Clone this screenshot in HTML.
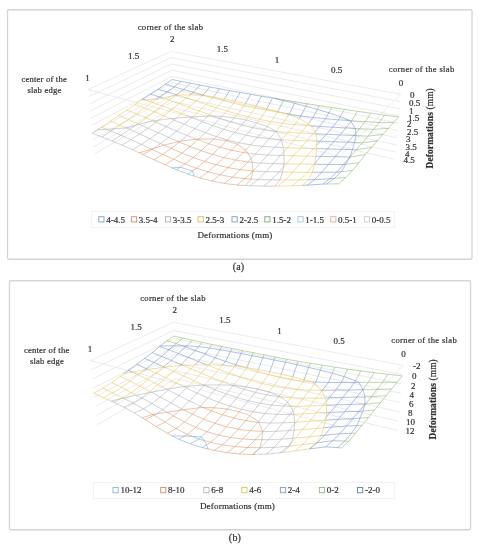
<!DOCTYPE html>
<html><head><meta charset="utf-8"><style>html,body{margin:0;padding:0;background:#fff;width:478px;height:550px;overflow:hidden}svg{display:block}</style></head>
<body>
<svg width="478" height="550" viewBox="0 0 478 550" font-family="'Liberation Serif', serif" fill="#303030">
<style>text{stroke:#303030;stroke-width:0.2px}</style>
<rect width="478" height="550" fill="#fff"/>
<rect x="7.5" y="9.75" width="464.5" height="249.5" rx="1.5" fill="none" stroke="#D4D4D4" stroke-width="1.3"/>
<rect x="9.5" y="280.75" width="461" height="249" rx="1.5" fill="none" stroke="#D4D4D4" stroke-width="1.3"/>
<polyline points="88,89.6 170.8,51.4 400.8,94.3" stroke="#E6E6E6" stroke-width="0.8" fill="none"/>
<polyline points="88.76,96.74 171.04,57.67 400.18,101.53" stroke="#E6E6E6" stroke-width="0.8" fill="none"/>
<polyline points="89.51,103.89 171.29,63.93 399.56,108.77" stroke="#E6E6E6" stroke-width="0.8" fill="none"/>
<polyline points="90.27,111.03 171.53,70.2 398.93,116" stroke="#E6E6E6" stroke-width="0.8" fill="none"/>
<polyline points="91.02,118.18 171.78,76.47 398.31,123.23" stroke="#E6E6E6" stroke-width="0.8" fill="none"/>
<polyline points="91.78,125.32 172.02,82.73 397.69,130.47" stroke="#E6E6E6" stroke-width="0.8" fill="none"/>
<polyline points="92.53,132.47 172.27,89 397.07,137.7" stroke="#E6E6E6" stroke-width="0.8" fill="none"/>
<polyline points="93.29,139.61 172.51,95.27 396.44,144.93" stroke="#E6E6E6" stroke-width="0.8" fill="none"/>
<polyline points="94.04,146.76 172.76,101.53 395.82,152.17" stroke="#E6E6E6" stroke-width="0.8" fill="none"/>
<polyline points="94.8,153.9 173,107.8 395.2,159.4" stroke="#E6E6E6" stroke-width="0.8" fill="none"/>
<polyline points="88,89.6 339.8,156.6 400.8,94.3" stroke="#E6E6E6" stroke-width="0.8" fill="none"/>
<path d="M338.84 183.79L326.26 184.03 M338.84 183.79L345.79 177.46 M345.79 177.46L334.42 178.42 M345.79 177.46L352.5 170.53 M352.5 170.53L341.07 171.71 M352.5 170.53L359.04 162.68 M359.04 162.68L345.79 164.31 M359.04 162.68L365.38 154.58 M365.38 154.58L349.99 157.01 M365.38 154.58L371.45 147.42 M371.45 147.42L356.17 149.75 M371.45 147.42L377.28 140.78 M377.28 140.78L362.2 142.82 M377.28 140.78L382.9 134.45 M382.9 134.45L368.02 136.11 M382.9 134.45L388.32 128.37 M388.32 128.37L373.67 129.39 M388.32 128.37L393.56 122.54 M393.56 122.54L379.16 122.48 M393.56 122.54L398.61 116.97 M398.61 116.97L384.54 115.08 M350.14 156.77L356.17 149.75 M356.17 149.75L352.4 149.63 M356.17 149.75L362.2 142.82 M362.2 142.82L354.53 142.52 M362.2 142.82L368.02 136.11 M368.02 136.11L355.95 135.58 M368.02 136.11L373.67 129.39 M373.67 129.39L359.56 128.7 M373.67 129.39L379.16 122.48 M379.16 122.48L365.22 121.7 M379.16 122.48L384.54 115.08 M384.54 115.08L370.83 113.2 M355.85 133.03L359.56 128.7 M359.56 128.7L355.29 128.47 M359.56 128.7L365.22 121.7 M365.22 121.7L351.66 120.83 M365.22 121.7L370.83 113.2 M370.83 113.2L357.47 111.31 M351.04 121.59L351.66 120.83 M351.66 120.83L350.3 120.73 M351.66 120.83L357.47 111.31 M357.47 111.31L344.44 109.4 M340.32 116.6L344.44 109.4 M344.44 109.4L331.73 107.5 M328.87 112.76L331.73 107.5 M331.73 107.5L319.32 105.6 M317.36 109.36L319.32 105.6 M319.32 105.6L307.21 103.71 M305.91 106.26L307.21 103.71 M307.21 103.71L295.38 101.82 M294.6 103.36L295.38 101.82 M295.38 101.82L283.83 99.93 M283.48 100.59L283.83 99.93 M283.83 99.93L274.6 98.4" stroke="#78A858" stroke-width="0.8" stroke-opacity="0.6" fill="none"/>
<path d="M326.26 184.03L322.74 184.1 M334.42 178.42L329.84 178.81 M341.07 171.71L336.74 172.16 M345.79 164.31L343.44 164.6 M349.99 157.01L349.92 157.03 M322.74 184.1L307.17 185.13 M322.74 184.1L329.84 178.81 M329.84 178.81L314.48 179.62 M329.84 178.81L336.74 172.16 M336.74 172.16L321.59 172.31 M336.74 172.16L343.44 164.6 M343.44 164.6L328.48 164.44 M343.44 164.6L349.92 157.03 M349.92 157.03L335.14 156.69 M349.92 157.03L350.14 156.77 M352.4 149.63L341.56 149.28 M354.53 142.52L347.76 142.26 M355.95 135.58L353.75 135.48 M307.17 185.13L302.19 185.38 M307.17 185.13L314.48 179.62 M314.48 179.62L308.71 179.74 M314.48 179.62L321.59 172.31 M321.59 172.31L312.34 172.32 M321.59 172.31L328.48 164.44 M328.48 164.44L314.62 164.27 M328.48 164.44L335.14 156.69 M335.14 156.69L320.81 156.39 M335.14 156.69L341.56 149.28 M341.56 149.28L327.39 148.88 M341.56 149.28L347.76 142.26 M347.76 142.26L333.74 141.73 M347.76 142.26L353.75 135.48 M353.75 135.48L339.89 134.86 M353.75 135.48L355.85 133.03 M355.29 128.47L345.86 127.96 M314.81 163.32L320.81 156.39 M320.81 156.39L315.88 156.29 M320.81 156.39L327.39 148.88 M327.39 148.88L316.61 148.59 M327.39 148.88L333.74 141.73 M333.74 141.73L320.13 141.23 M333.74 141.73L339.89 134.86 M339.89 134.86L326.42 134.26 M339.89 134.86L345.86 127.96 M345.86 127.96L332.52 127.19 M345.86 127.96L351.04 121.59 M350.3 120.73L338.47 119.82 M316.77 145L320.13 141.23 M320.13 141.23L316.74 141.13 M320.13 141.23L326.42 134.26 M326.42 134.26L316.06 133.81 M326.42 134.26L332.52 127.19 M332.52 127.19L319.55 126.38 M332.52 127.19L338.47 119.82 M338.47 119.82L325.63 118.71 M338.47 119.82L340.32 116.6 M315.04 131.66L319.55 126.38 M319.55 126.38L311.13 125.83 M319.55 126.38L325.63 118.71 M325.63 118.71L313.12 117.47 M325.63 118.71L328.87 112.76 M308.37 123.67L313.12 117.47 M313.12 117.47L300.93 116.01 M313.12 117.47L317.36 109.36 M299.14 118.45L300.93 116.01 M300.93 116.01L289.05 114.24 M300.93 116.01L305.91 106.26 M288.83 114.55L289.05 114.24 M289.05 114.24L285.63 113.62 M289.05 114.24L294.6 103.36 M277.74 111.57L283.48 100.59 M274.6 98.4L272.54 98.05 M266.82 108.74L272.54 98.05 M272.54 98.05L261.5 96.2 M256.17 105.97L261.5 96.2 M261.5 96.2L250.7 94.35 M245.56 103.41L250.7 94.35 M250.7 94.35L240.14 92.49 M234.91 101.09L240.14 92.49 M240.14 92.49L229.8 90.61 M224.23 98.98L229.8 90.61 M229.8 90.61L219.69 88.74 M204.6 95.49L203.06 95.07 M213.61 97.01L219.69 88.74 M219.69 88.74L209.78 86.88 M202.77 95.32L203.06 95.07 M203.06 95.07L193.29 92.29 M203.06 95.07L209.78 86.88 M209.78 86.88L200.08 85.04 M177.67 95.15L176.6 94.81 M190 94.9L193.29 92.29 M193.29 92.29L183.7 89.53 M193.29 92.29L200.08 85.04 M200.08 85.04L190.58 83.21 M162.95 98.03L159.77 96.99 M175.97 95.26L176.6 94.81 M176.6 94.81L167.14 91.96 M176.6 94.81L183.7 89.53 M183.7 89.53L174.31 86.88 M183.7 89.53L190.58 83.21 M190.58 83.21L181.26 81.38 M145.65 100.04L142.82 99.08 M156.46 99.3L159.77 96.99 M159.77 96.99L150.45 94.14 M159.77 96.99L167.14 91.96 M167.14 91.96L157.88 89.29 M167.14 91.96L174.31 86.88 M174.31 86.88L165.1 84.34 M174.31 86.88L181.26 81.38 M181.26 81.38L172.13 79.55 M141.48 100.01L142.82 99.08 M142.82 99.08L150.45 94.14 M150.45 94.14L157.88 89.29 M157.88 89.29L165.1 84.34 M165.1 84.34L172.13 79.55 M326.26 184.03L334.42 178.42 M334.42 178.42L341.07 171.71 M341.07 171.71L345.79 164.31 M345.79 164.31L349.99 157.01 M349.99 157.01L350.14 156.77 M352.4 149.63L350.14 156.77 M352.4 149.63L354.53 142.52 M354.53 142.52L355.95 135.58 M355.95 135.58L355.85 133.03 M355.29 128.47L355.85 133.03 M355.29 128.47L351.04 121.59 M350.3 120.73L351.04 121.59 M350.3 120.73L340.32 116.6 M328.87 112.76L340.32 116.6 M317.36 109.36L328.87 112.76 M305.91 106.26L317.36 109.36 M294.6 103.36L305.91 106.26 M283.48 100.59L294.6 103.36 M274.6 98.4L283.48 100.59" stroke="#5A7EC0" stroke-width="0.8" stroke-opacity="0.6" fill="none"/>
<path d="M302.19 185.38L292.16 185.89 M308.71 179.74L299.67 179.94 M312.34 172.32L306.95 172.32 M314.62 164.27L314 164.26 M292.16 185.89L277.68 186.18 M292.16 185.89L299.67 179.94 M299.67 179.94L285.35 179.91 M299.67 179.94L306.95 172.32 M306.95 172.32L292.77 172.15 M306.95 172.32L314 164.26 M314 164.26L299.96 164.05 M314 164.26L314.81 163.32 M315.88 156.29L306.91 156.11 M316.61 148.59L313.63 148.52 M277.68 186.18L274.86 186.18 M277.68 186.18L285.35 179.91 M285.35 179.91L279.99 179.86 M285.35 179.91L292.77 172.15 M292.77 172.15L282.51 171.98 M292.77 172.15L299.96 164.05 M299.96 164.05L286.35 163.84 M299.96 164.05L306.91 156.11 M306.91 156.11L293.42 155.84 M306.91 156.11L313.63 148.52 M313.63 148.52L300.26 148.19 M313.63 148.52L316.77 145 M316.74 141.13L306.89 140.82 M316.06 133.81L313.31 133.69 M283.52 166.97L286.35 163.84 M286.35 163.84L284.06 163.8 M286.35 163.84L293.42 155.84 M293.42 155.84L284.12 155.61 M293.42 155.84L300.26 148.19 M300.26 148.19L287.29 147.81 M300.26 148.19L306.89 140.82 M306.89 140.82L294.03 140.39 M306.89 140.82L313.31 133.69 M313.31 133.69L300.56 133.14 M313.31 133.69L315.04 131.66 M311.13 125.83L306.92 125.56 M283.95 151.51L287.29 147.81 M287.29 147.81L283.32 147.63 M287.29 147.81L294.03 140.39 M294.03 140.39L281.52 139.76 M294.03 140.39L300.56 133.14 M300.56 133.14L288.16 132.47 M300.56 133.14L306.92 125.56 M306.92 125.56L294.62 124.62 M306.92 125.56L308.37 123.67 M281.44 139.85L281.52 139.76 M281.52 139.76L281.39 139.75 M281.52 139.76L288.16 132.47 M288.16 132.47L276.39 131.49 M288.16 132.47L294.62 124.62 M294.62 124.62L282.64 123.4 M294.62 124.62L299.14 118.45 M276.2 131.32L282.64 123.4 M282.64 123.4L270.96 121.63 M282.64 123.4L288.83 114.55 M285.63 113.62L277.45 112.14 M267.13 126.41L270.96 121.63 M270.96 121.63L259.56 119.36 M270.96 121.63L277.45 112.14 M277.45 112.14L266.11 110.07 M277.45 112.14L277.74 111.57 M256.75 122.87L259.56 119.36 M259.56 119.36L248.42 116.91 M259.56 119.36L266.11 110.07 M266.11 110.07L255.03 108.07 M266.11 110.07L266.82 108.74 M245.86 119.99L248.42 116.91 M248.42 116.91L237.52 114.16 M248.42 116.91L255.03 108.07 M255.03 108.07L244.2 105.82 M255.03 108.07L256.17 105.97 M234.31 117.81L237.52 114.16 M237.52 114.16L226.85 111.04 M237.52 114.16L244.2 105.82 M244.2 105.82L233.59 103.26 M244.2 105.82L245.56 103.41 M213.17 116.1L209.39 114.77 M221.78 116.48L226.85 111.04 M226.85 111.04L216.39 107.76 M226.85 111.04L233.59 103.26 M233.59 103.26L223.21 100.53 M233.59 103.26L234.91 101.09 M207.97 116.12L209.39 114.77 M209.39 114.77L199.06 110.98 M209.39 114.77L216.39 107.76 M216.39 107.76L206.14 104.43 M216.39 107.76L223.21 100.53 M223.21 100.53L213.03 97.8 M223.21 100.53L224.23 98.98 M190.6 117.04L181.59 113.47 M192.46 116.9L199.06 110.98 M199.06 110.98L188.94 107.21 M199.06 110.98L206.14 104.43 M206.14 104.43L196.1 101.12 M206.14 104.43L213.03 97.8 M213.03 97.8L204.6 95.49 M213.03 97.8L213.61 97.01 M170.62 118.63L163.98 115.87 M176.25 118.13L181.59 113.47 M181.59 113.47L171.6 109.55 M181.59 113.47L188.94 107.21 M188.94 107.21L179.02 103.56 M188.94 107.21L196.1 101.12 M196.1 101.12L186.25 97.89 M196.1 101.12L202.77 95.32 M138.97 124.17L138.05 123.76 M152.96 120.86L146.21 117.98 M158.74 120.12L163.98 115.87 M163.98 115.87L154.12 111.85 M163.98 115.87L171.6 109.55 M171.6 109.55L161.8 105.79 M171.6 109.55L179.02 103.56 M179.02 103.56L169.29 100.12 M179.02 103.56L186.25 97.89 M186.25 97.89L177.67 95.15 M186.25 97.89L190 94.9 M126.36 127.95L119.78 125.15 M135.66 125.34L138.05 123.76 M138.05 123.76L128.26 119.53 M138.05 123.76L146.21 117.98 M146.21 117.98L136.49 113.92 M146.21 117.98L154.12 111.85 M154.12 111.85L144.46 108.04 M154.12 111.85L161.8 105.79 M161.8 105.79L152.21 102.28 M161.8 105.79L169.29 100.12 M169.29 100.12L162.95 98.03 M169.29 100.12L175.97 95.26 M106.56 129.27L101.41 127.22 M114.54 128.7L119.78 125.15 M119.78 125.15L110.17 121.29 M119.78 125.15L128.26 119.53 M128.26 119.53L118.68 115.6 M128.26 119.53L136.49 113.92 M136.49 113.92L126.97 110.13 M136.49 113.92L144.46 108.04 M144.46 108.04L135 104.51 M144.46 108.04L152.21 102.28 M152.21 102.28L145.65 100.04 M152.21 102.28L156.46 99.3 M97.75 129.65L101.41 127.22 M101.41 127.22L110.17 121.29 M110.17 121.29L118.68 115.6 M118.68 115.6L126.97 110.13 M126.97 110.13L135 104.51 M135 104.51L141.48 100.01 M302.19 185.38L308.71 179.74 M308.71 179.74L312.34 172.32 M312.34 172.32L314.62 164.27 M314.62 164.27L314.81 163.32 M315.88 156.29L314.81 163.32 M315.88 156.29L316.61 148.59 M316.61 148.59L316.77 145 M316.74 141.13L316.77 145 M316.74 141.13L316.06 133.81 M316.06 133.81L315.04 131.66 M311.13 125.83L315.04 131.66 M311.13 125.83L308.37 123.67 M299.14 118.45L308.37 123.67 M288.83 114.55L299.14 118.45 M285.63 113.62L288.83 114.55 M285.63 113.62L277.74 111.57 M266.82 108.74L277.74 111.57 M256.17 105.97L266.82 108.74 M245.56 103.41L256.17 105.97 M234.91 101.09L245.56 103.41 M224.23 98.98L234.91 101.09 M213.61 97.01L224.23 98.98 M202.77 95.32L204.6 95.49 M204.6 95.49L213.61 97.01 M190 94.9L202.77 95.32 M175.97 95.26L177.67 95.15 M177.67 95.15L190 94.9 M156.46 99.3L162.95 98.03 M162.95 98.03L175.97 95.26 M141.48 100.01L145.65 100.04 M145.65 100.04L156.46 99.3" stroke="#E6BA40" stroke-width="0.8" stroke-opacity="0.6" fill="none"/>
<path d="M274.86 186.18L263.68 186.15 M279.99 179.86L271.49 179.78 M282.51 171.98L279.04 171.92 M263.68 186.15L250.13 185.8 M263.68 186.15L271.49 179.78 M271.49 179.78L258.07 179.48 M271.49 179.78L279.04 171.92 M279.04 171.92L265.73 171.68 M279.04 171.92L283.52 166.97 M284.06 163.8L273.15 163.6 M284.12 155.61L280.33 155.52 M250.13 185.8L245.71 185.54 M250.13 185.8L258.07 179.48 M258.07 179.48L251.1 179.04 M258.07 179.48L265.73 171.68 M265.73 171.68L252.96 171.04 M265.73 171.68L273.15 163.6 M273.15 163.6L260.34 163.12 M273.15 163.6L280.33 155.52 M280.33 155.52L267.62 155.04 M280.33 155.52L283.95 151.51 M283.32 147.63L274.68 147.25 M252.98 170.86L260.34 163.12 M260.34 163.12L252.21 162.38 M260.34 163.12L267.62 155.04 M267.62 155.04L255.27 154.1 M267.62 155.04L274.68 147.25 M274.68 147.25L262.41 146.35 M274.68 147.25L281.44 139.85 M281.39 139.75L269.35 138.79 M276.39 131.49L276.08 131.46 M251.11 158.55L255.27 154.1 M255.27 154.1L247.6 153.09 M255.27 154.1L262.41 146.35 M262.41 146.35L250.48 144.89 M262.41 146.35L269.35 138.79 M269.35 138.79L257.5 137.31 M269.35 138.79L276.08 131.46 M276.08 131.46L264.32 129.9 M276.08 131.46L276.2 131.32 M245.51 150.13L250.48 144.89 M250.48 144.89L238.84 142.76 M250.48 144.89L257.5 137.31 M257.5 137.31L245.94 135.21 M257.5 137.31L264.32 129.9 M264.32 129.9L252.85 127.74 M264.32 129.9L267.13 126.41 M237.31 144.32L238.84 142.76 M238.84 142.76L227.47 139.98 M238.84 142.76L245.94 135.21 M245.94 135.21L234.65 132.51 M245.94 135.21L252.85 127.74 M252.85 127.74L241.63 125.07 M252.85 127.74L256.75 122.87 M226.73 140.7L227.47 139.98 M227.47 139.98L216.35 136.58 M227.47 139.98L234.65 132.51 M234.65 132.51L223.61 129.26 M234.65 132.51L241.63 125.07 M241.63 125.07L230.66 121.96 M241.63 125.07L245.86 119.99 M213.74 139.08L216.35 136.58 M216.35 136.58L205.46 132.74 M216.35 136.58L223.61 129.26 M223.61 129.26L212.79 125.58 M223.61 129.26L230.66 121.96 M230.66 121.96L219.92 118.48 M230.66 121.96L234.31 117.81 M196.39 139.17L187.15 135.5 M198.71 139.02L205.46 132.74 M205.46 132.74L194.78 128.6 M205.46 132.74L212.79 125.58 M212.79 125.58L202.18 121.61 M212.79 125.58L219.92 118.48 M219.92 118.48L213.17 116.1 M219.92 118.48L221.78 116.48 M163.96 145.18L160.44 143.59 M178.2 141.63L168.66 137.47 M180.28 141.25L187.15 135.5 M187.15 135.5L176.61 131.07 M187.15 135.5L194.78 128.6 M194.78 128.6L184.31 124.33 M194.78 128.6L202.18 121.61 M202.18 121.61L191.78 117.51 M202.18 121.61L207.97 116.12 M139.04 152.77L132.47 149.77 M151.41 149.19L141.37 144.46 M153.13 148.62L160.44 143.59 M160.44 143.59L149.95 138.7 M160.44 143.59L168.66 137.47 M168.66 137.47L158.25 132.79 M168.66 137.47L176.61 131.07 M176.61 131.07L166.27 126.61 M176.61 131.07L184.31 124.33 M184.31 124.33L174.04 120.06 M184.31 124.33L191.78 117.51 M191.78 117.51L190.6 117.04 M191.78 117.51L192.46 116.9 M132.47 149.77L122.09 145.2 M132.47 149.77L141.37 144.46 M141.37 144.46L131.04 139.67 M141.37 144.46L149.95 138.7 M149.95 138.7L139.67 133.9 M149.95 138.7L158.25 132.79 M158.25 132.79L148.04 128.19 M158.25 132.79L166.27 126.61 M166.27 126.61L156.14 122.22 M166.27 126.61L174.04 120.06 M174.04 120.06L170.62 118.63 M174.04 120.06L176.25 118.13 M122.09 145.2L111.96 140.93 M122.09 145.2L131.04 139.67 M131.04 139.67L120.93 135.2 M131.04 139.67L139.67 133.9 M139.67 133.9L129.61 129.34 M139.67 133.9L148.04 128.19 M148.04 128.19L138.97 124.17 M148.04 128.19L156.14 122.22 M156.14 122.22L152.96 120.86 M156.14 122.22L158.74 120.12 M111.96 140.93L102.06 136.98 M111.96 140.93L120.93 135.2 M120.93 135.2L111.06 131.07 M120.93 135.2L129.61 129.34 M129.61 129.34L126.36 127.95 M129.61 129.34L135.66 125.34 M102.06 136.98L92.38 133.22 M102.06 136.98L111.06 131.07 M111.06 131.07L106.56 129.27 M111.06 131.07L114.54 128.7 M92.38 133.22L97.75 129.65 M274.86 186.18L279.99 179.86 M279.99 179.86L282.51 171.98 M282.51 171.98L283.52 166.97 M284.06 163.8L283.52 166.97 M284.06 163.8L284.12 155.61 M284.12 155.61L283.95 151.51 M283.32 147.63L283.95 151.51 M283.32 147.63L281.44 139.85 M281.39 139.75L281.44 139.85 M281.39 139.75L276.39 131.49 M276.39 131.49L276.2 131.32 M267.13 126.41L276.2 131.32 M256.75 122.87L267.13 126.41 M245.86 119.99L256.75 122.87 M234.31 117.81L245.86 119.99 M221.78 116.48L234.31 117.81 M207.97 116.12L213.17 116.1 M213.17 116.1L221.78 116.48 M192.46 116.9L207.97 116.12 M176.25 118.13L190.6 117.04 M190.6 117.04L192.46 116.9 M158.74 120.12L170.62 118.63 M170.62 118.63L176.25 118.13 M135.66 125.34L138.97 124.17 M138.97 124.17L152.96 120.86 M152.96 120.86L158.74 120.12 M114.54 128.7L126.36 127.95 M126.36 127.95L135.66 125.34 M97.75 129.65L106.56 129.27 M106.56 129.27L114.54 128.7" stroke="#9EA0A8" stroke-width="0.8" stroke-opacity="0.6" fill="none"/>
<path d="M245.71 185.54L237 185.03 M251.1 179.04L245.06 178.67 M252.96 171.04L252.82 171.03 M237 185.03L224.26 183.44 M237 185.03L245.06 178.67 M245.06 178.67L232.42 177.12 M245.06 178.67L252.82 171.03 M252.82 171.03L240.29 169.7 M252.82 171.03L252.98 170.86 M252.21 162.38L247.89 161.99 M224.26 183.44L211.85 180.97 M224.26 183.44L232.42 177.12 M232.42 177.12L220.12 174.81 M232.42 177.12L240.29 169.7 M240.29 169.7L228.08 167.62 M240.29 169.7L247.89 161.99 M247.89 161.99L235.78 160.11 M247.89 161.99L251.11 158.55 M247.6 153.09L243.24 152.52 M211.85 180.97L199.75 177.86 M211.85 180.97L220.12 174.81 M220.12 174.81L208.12 171.81 M220.12 174.81L228.08 167.62 M228.08 167.62L216.18 164.84 M228.08 167.62L235.78 160.11 M235.78 160.11L223.97 157.56 M235.78 160.11L243.24 152.52 M243.24 152.52L231.52 150.22 M243.24 152.52L245.51 150.13 M199.75 177.86L194.2 176.11 M199.75 177.86L208.12 171.81 M208.12 171.81L196.41 168.16 M208.12 171.81L216.18 164.84 M216.18 164.84L204.56 161.42 M216.18 164.84L223.97 157.56 M223.97 157.56L212.44 154.39 M223.97 157.56L231.52 150.22 M231.52 150.22L220.07 147.25 M231.52 150.22L237.31 144.32 M192.49 170.92L196.41 168.16 M196.41 168.16L184.94 163.94 M196.41 168.16L204.56 161.42 M204.56 161.42L193.19 157.47 M204.56 161.42L212.44 154.39 M212.44 154.39L201.15 150.68 M212.44 154.39L220.07 147.25 M220.07 147.25L208.87 143.74 M220.07 147.25L226.73 140.7 M172.1 167.86L165.05 164.79 M180.08 167.22L184.94 163.94 M184.94 163.94L173.71 159.29 M184.94 163.94L193.19 157.47 M193.19 157.47L182.05 153.1 M193.19 157.47L201.15 150.68 M201.15 150.68L190.1 146.54 M201.15 150.68L208.87 143.74 M208.87 143.74L197.9 139.77 M208.87 143.74L213.74 139.08 M165.05 164.79L153.95 159.68 M165.05 164.79L173.71 159.29 M173.71 159.29L162.71 154.4 M173.71 159.29L182.05 153.1 M182.05 153.1L171.14 148.43 M182.05 153.1L190.1 146.54 M190.1 146.54L179.27 142.09 M190.1 146.54L197.9 139.77 M197.9 139.77L196.39 139.17 M197.9 139.77L198.71 139.02 M153.95 159.68L143.09 154.61 M153.95 159.68L162.71 154.4 M162.71 154.4L151.93 149.44 M162.71 154.4L171.14 148.43 M171.14 148.43L163.96 145.18 M171.14 148.43L179.27 142.09 M179.27 142.09L178.2 141.63 M179.27 142.09L180.28 141.25 M143.09 154.61L139.04 152.77 M143.09 154.61L151.93 149.44 M151.93 149.44L151.41 149.19 M151.93 149.44L153.13 148.62 M245.71 185.54L251.1 179.04 M251.1 179.04L252.96 171.04 M252.96 171.04L252.98 170.86 M252.21 162.38L252.98 170.86 M252.21 162.38L251.11 158.55 M247.6 153.09L251.11 158.55 M247.6 153.09L245.51 150.13 M237.31 144.32L245.51 150.13 M226.73 140.7L237.31 144.32 M213.74 139.08L226.73 140.7 M198.71 139.02L213.74 139.08 M180.28 141.25L196.39 139.17 M196.39 139.17L198.71 139.02 M153.13 148.62L163.96 145.18 M163.96 145.18L178.2 141.63 M178.2 141.63L180.28 141.25 M139.04 152.77L151.41 149.19 M151.41 149.19L153.13 148.62" stroke="#D88550" stroke-width="0.8" stroke-opacity="0.6" fill="none"/>
<path d="M194.2 176.11L187.94 174.13 M187.94 174.13L176.38 169.73 M187.94 174.13L192.49 170.92 M176.38 169.73L172.1 167.86 M176.38 169.73L180.08 167.22 M194.2 176.11L192.49 170.92 M180.08 167.22L192.49 170.92 M172.1 167.86L180.08 167.22" stroke="#5E9CC8" stroke-width="0.8" stroke-opacity="0.6" fill="none"/>
<text x="170.5" y="29.7" font-size="8.6" text-anchor="middle" letter-spacing="0.32">corner of the slab</text>
<text x="172.2" y="42.2" font-size="9" text-anchor="middle">2</text>
<text x="133.5" y="58.5" font-size="9" text-anchor="middle">1.5</text>
<text x="87.4" y="80.6" font-size="9" text-anchor="middle">1</text>
<text x="44.2" y="81.7" font-size="8.6" text-anchor="middle" letter-spacing="0.2">center of the</text>
<text x="44.4" y="92.7" font-size="8.6" text-anchor="middle" letter-spacing="0.2">slab edge</text>
<text x="222.3" y="51.6" font-size="9" text-anchor="middle">1.5</text>
<text x="277" y="62.5" font-size="9" text-anchor="middle">1</text>
<text x="336.5" y="72.5" font-size="9" text-anchor="middle">0.5</text>
<text x="401" y="86" font-size="9" text-anchor="middle">0</text>
<text x="421.7" y="72.1" font-size="8.6" text-anchor="middle" letter-spacing="0.32">corner of the slab</text>
<text x="410" y="97.6" font-size="9" text-anchor="start">0</text>
<text x="409" y="105.8" font-size="9" text-anchor="start">0.5</text>
<text x="409" y="113.6" font-size="9" text-anchor="start">1</text>
<text x="408" y="120.9" font-size="9" text-anchor="start">1.5</text>
<text x="407" y="126.7" font-size="9" text-anchor="start">2</text>
<text x="407" y="135.3" font-size="9" text-anchor="start">2.5</text>
<text x="406" y="142.1" font-size="9" text-anchor="start">3</text>
<text x="405.5" y="150.1" font-size="9" text-anchor="start">3.5</text>
<text x="405" y="156.7" font-size="9" text-anchor="start">4</text>
<text x="403.6" y="163.1" font-size="9" text-anchor="start">4.5</text>
<text transform="translate(433.3 128.3) rotate(-90)" font-size="9.4" letter-spacing="0.15" text-anchor="middle"><tspan font-weight="bold">Deformations</tspan> (mm)</text>
<rect x="91.7" y="211.4" width="303" height="16.2" fill="none" stroke="#EFEFEF" stroke-width="0.8"/>
<rect x="98.8" y="216.7" width="5.2" height="5.2" fill="none" stroke="#86AEB8" stroke-width="1"/>
<text x="106.2" y="222.6" font-size="9" text-anchor="start">4-4.5</text>
<rect x="131.4" y="216.7" width="5.2" height="5.2" fill="none" stroke="#C89C7C" stroke-width="1"/>
<text x="138.8" y="222.6" font-size="9" text-anchor="start">3.5-4</text>
<rect x="165.4" y="216.7" width="5.2" height="5.2" fill="none" stroke="#B8B8B8" stroke-width="1"/>
<text x="172.8" y="222.6" font-size="9" text-anchor="start">3-3.5</text>
<rect x="198.1" y="216.7" width="5.2" height="5.2" fill="none" stroke="#D8C470" stroke-width="1"/>
<text x="205.5" y="222.6" font-size="9" text-anchor="start">2.5-3</text>
<rect x="232" y="216.7" width="5.2" height="5.2" fill="none" stroke="#8FA3C0" stroke-width="1"/>
<text x="239.4" y="222.6" font-size="9" text-anchor="start">2-2.5</text>
<rect x="264.8" y="216.7" width="5.2" height="5.2" fill="none" stroke="#8FAE80" stroke-width="1"/>
<text x="272.2" y="222.6" font-size="9" text-anchor="start">1.5-2</text>
<rect x="297.9" y="216.7" width="5.2" height="5.2" fill="none" stroke="#A4CBE0" stroke-width="1"/>
<text x="305.3" y="222.6" font-size="9" text-anchor="start">1-1.5</text>
<rect x="330.7" y="216.7" width="5.2" height="5.2" fill="none" stroke="#E6B4A4" stroke-width="1"/>
<text x="338.1" y="222.6" font-size="9" text-anchor="start">0.5-1</text>
<rect x="364.4" y="216.7" width="5.2" height="5.2" fill="none" stroke="#CFCFCF" stroke-width="1"/>
<text x="371.8" y="222.6" font-size="9" text-anchor="start">0-0.5</text>
<text x="235" y="238" font-size="9" text-anchor="middle" letter-spacing="0.2">Deformations (mm)</text>
<polyline points="90.5,360.6 173.3,322.4 403.3,365.3" stroke="#E6E6E6" stroke-width="0.8" fill="none"/>
<polyline points="91.47,369.79 173.61,330.46 402.5,374.6" stroke="#E6E6E6" stroke-width="0.8" fill="none"/>
<polyline points="92.44,378.97 173.93,338.51 401.7,383.9" stroke="#E6E6E6" stroke-width="0.8" fill="none"/>
<polyline points="93.41,388.16 174.24,346.57 400.9,393.2" stroke="#E6E6E6" stroke-width="0.8" fill="none"/>
<polyline points="94.39,397.34 174.56,354.63 400.1,402.5" stroke="#E6E6E6" stroke-width="0.8" fill="none"/>
<polyline points="95.36,406.53 174.87,362.69 399.3,411.8" stroke="#E6E6E6" stroke-width="0.8" fill="none"/>
<polyline points="96.33,415.71 175.19,370.74 398.5,421.1" stroke="#E6E6E6" stroke-width="0.8" fill="none"/>
<polyline points="97.3,424.9 175.5,378.8 397.7,430.4" stroke="#E6E6E6" stroke-width="0.8" fill="none"/>
<polyline points="90.5,360.6 342.3,427.6 403.3,365.3" stroke="#E6E6E6" stroke-width="0.8" fill="none"/>
<path d="M341.73 447.92L337.4 447.63 M341.73 447.92L348.73 441.24 M348.73 441.24L344.77 441.11 M348.73 441.24L355.55 433.19 M355.55 433.19L351.44 433.33 M355.55 433.19L362.13 425.29 M362.13 425.29L356.93 425.55 M362.13 425.29L368.47 417.52 M368.47 417.52L360.02 418.13 M368.47 417.52L374.6 409.97 M374.6 409.97L362.92 411.02 M374.6 409.97L380.51 402.68 M380.51 402.68L365.39 404.02 M380.51 402.68L386.22 395.65 M386.22 395.65L371.28 396.79 M386.22 395.65L391.74 388.85 M391.74 388.85L377.01 389.54 M391.74 388.85L397.07 382.28 M397.07 382.28L382.56 382.31 M397.07 382.28L402.23 375.93 M402.23 375.93L388.02 374.32 M364.8 404.73L365.39 404.02 M365.39 404.02L364.89 404.03 M365.39 404.02L371.28 396.79 M371.28 396.79L364.93 396.93 M371.28 396.79L377.01 389.54 M377.01 389.54L362.97 389.71 M377.01 389.54L382.56 382.31 M382.56 382.31L368.46 382.31 M382.56 382.31L388.02 374.32 M388.02 374.32L374.19 372.63 M362.88 389.53L368.46 382.31 M368.46 382.31L358.78 382.35 M368.46 382.31L374.19 372.63 M374.19 372.63L360.72 370.88 M355.54 380.86L360.72 370.88 M360.72 370.88L347.59 369.05 M344.12 376.62L347.59 369.05 M347.59 369.05L334.79 367.12 M332.3 373.17L334.79 367.12 M334.79 367.12L322.29 365.17 M320.4 370.15L322.29 365.17 M322.29 365.17L310.09 363.24 M308.6 367.38L310.09 363.24 M310.09 363.24L298.18 361.29 M296.94 364.78L298.18 361.29 M298.18 361.29L286.54 359.26 M285.44 362.33L286.54 359.26 M286.54 359.26L275.17 357.09 M274.08 360.01L275.17 357.09 M275.17 357.09L264.05 354.88 M262.89 357.8L264.05 354.88 M264.05 354.88L253.16 352.7 M251.91 355.66L253.16 352.7 M253.16 352.7L242.51 350.58 M241.13 353.58L242.51 350.58 M242.51 350.58L232.09 348.5 M230.51 351.58L232.09 348.5 M232.09 348.5L221.89 346.47 M220 349.69L221.89 346.47 M221.89 346.47L211.89 344.43 M209.44 347.97L211.89 344.43 M211.89 344.43L202.1 342.35 M198.54 346.58L202.1 342.35 M202.1 342.35L192.5 340.26 M182.33 345.77L176.08 343.62 M186.69 345.83L192.5 340.26 M192.5 340.26L183.1 338.16 M173.52 345.85L176.08 343.62 M176.08 343.62L166.76 340.63 M176.08 343.62L183.1 338.16 M183.1 338.16L173.87 336.1 M160.33 345.93L166.76 340.63 M166.76 340.63L173.87 336.1" stroke="#78A858" stroke-width="0.8" stroke-opacity="0.6" fill="none"/>
<path d="M337.4 447.63L325.62 446.83 M344.77 441.11L332.8 440.73 M351.44 433.33L339.76 433.7 M356.93 425.55L346.51 426.06 M360.02 418.13L353.01 418.64 M362.92 411.02L359.3 411.34 M325.62 446.83L309.93 448.82 M325.62 446.83L332.8 440.73 M332.8 440.73L317.3 442.75 M332.8 440.73L339.76 433.7 M339.76 433.7L324.45 435.27 M339.76 433.7L346.51 426.06 M346.51 426.06L331.39 427.12 M346.51 426.06L353.01 418.64 M353.01 418.64L338.08 419.39 M353.01 418.64L359.3 411.34 M359.3 411.34L344.55 411.82 M359.3 411.34L364.8 404.73 M364.89 404.03L350.8 404.37 M364.93 396.93L356.86 397.09 M362.97 389.71L362.75 389.71 M309.93 448.82L308.99 448.95 M309.93 448.82L317.3 442.75 M317.3 442.75L316.43 442.86 M317.3 442.75L324.45 435.27 M324.45 435.27L321.07 435.62 M324.45 435.27L331.39 427.12 M331.39 427.12L323.56 427.75 M331.39 427.12L338.08 419.39 M338.08 419.39L325.74 420.14 M338.08 419.39L344.55 411.82 M344.55 411.82L330.25 412.39 M344.55 411.82L350.8 404.37 M350.8 404.37L336.65 404.8 M350.8 404.37L356.86 397.09 M356.86 397.09L342.86 397.45 M356.86 397.09L362.75 389.71 M362.75 389.71L348.89 389.95 M362.75 389.71L362.88 389.53 M358.78 382.35L354.76 382.37 M326.1 417.32L330.25 412.39 M330.25 412.39L326.5 412.59 M330.25 412.39L336.65 404.8 M336.65 404.8L326.5 405.21 M336.65 404.8L342.86 397.45 M342.86 397.45L329.26 397.84 M342.86 397.45L348.89 389.95 M348.89 389.95L335.43 390.18 M348.89 389.95L354.76 382.37 M354.76 382.37L341.42 382.5 M354.76 382.37L355.54 380.86 M326.14 401.54L329.26 397.84 M329.26 397.84L325.46 397.93 M329.26 397.84L335.43 390.18 M335.43 390.18L322.35 390.29 M335.43 390.18L341.42 382.5 M341.42 382.5L328.46 382.48 M341.42 382.5L344.12 376.62 M321.81 390.96L322.35 390.29 M322.35 390.29L321.28 390.27 M322.35 390.29L328.46 382.48 M328.46 382.48L315.86 382.13 M328.46 382.48L332.3 373.17 M314.69 383.63L315.86 382.13 M315.86 382.13L311.78 381.81 M315.86 382.13L320.4 370.15 M304.16 379.64L308.6 367.38 M292.68 376.74L296.94 364.78 M281.19 374.13L285.44 362.33 M269.72 371.76L274.08 360.01 M258.26 369.59L262.89 357.8 M242.56 366.85L235.96 364.81 M246.86 367.58L251.91 355.66 M234.95 366.08L235.96 364.81 M235.96 364.81L225.5 361.39 M235.96 364.81L241.13 353.58 M222.27 365.2L225.5 361.39 M225.5 361.39L215.24 357.81 M225.5 361.39L230.51 351.58 M206.58 364.8L198.19 361.45 M208.95 364.8L215.24 357.81 M215.24 357.81L205.16 354.14 M215.24 357.81L220 349.69 M182.77 365.33L181.03 364.58 M194.83 364.94L198.19 361.45 M198.19 361.45L188.24 357.42 M198.19 361.45L205.16 354.14 M205.16 354.14L195.28 350.46 M205.16 354.14L209.44 347.97 M164.43 367.12L163.7 366.78 M179.95 365.56L181.03 364.58 M181.03 364.58L171.2 360.35 M181.03 364.58L188.24 357.42 M188.24 357.42L178.48 353.5 M188.24 357.42L195.28 350.46 M195.28 350.46L185.58 346.89 M195.28 350.46L198.54 346.58 M148.07 369.46L146.21 368.59 M163.06 367.31L163.7 366.78 M163.7 366.78L153.99 362.48 M163.7 366.78L171.2 360.35 M171.2 360.35L161.56 356.33 M171.2 360.35L178.48 353.5 M178.48 353.5L168.91 349.87 M178.48 353.5L185.58 346.89 M185.58 346.89L182.33 345.77 M185.58 346.89L186.69 345.83 M132.35 372.07L128.57 370.3 M144.27 370.1L146.21 368.59 M146.21 368.59L136.64 364.33 M146.21 368.59L153.99 362.48 M153.99 362.48L144.48 358.44 M153.99 362.48L161.56 356.33 M161.56 356.33L152.11 352.58 M161.56 356.33L168.91 349.87 M168.91 349.87L159.53 346.59 M168.91 349.87L173.52 345.85 M123.99 373.7L128.57 370.3 M128.57 370.3L136.64 364.33 M136.64 364.33L144.48 358.44 M144.48 358.44L152.11 352.58 M152.11 352.58L159.53 346.59 M159.53 346.59L160.33 345.93 M337.4 447.63L344.77 441.11 M344.77 441.11L351.44 433.33 M351.44 433.33L356.93 425.55 M356.93 425.55L360.02 418.13 M360.02 418.13L362.92 411.02 M362.92 411.02L364.8 404.73 M364.89 404.03L364.8 404.73 M364.89 404.03L364.93 396.93 M364.93 396.93L362.97 389.71 M362.97 389.71L362.88 389.53 M358.78 382.35L362.88 389.53 M358.78 382.35L355.54 380.86 M344.12 376.62L355.54 380.86 M332.3 373.17L344.12 376.62 M320.4 370.15L332.3 373.17 M308.6 367.38L320.4 370.15 M296.94 364.78L308.6 367.38 M285.44 362.33L296.94 364.78 M274.08 360.01L285.44 362.33 M262.89 357.8L274.08 360.01 M251.91 355.66L262.89 357.8 M241.13 353.58L251.91 355.66 M230.51 351.58L241.13 353.58 M220 349.69L230.51 351.58 M209.44 347.97L220 349.69 M198.54 346.58L209.44 347.97 M186.69 345.83L198.54 346.58 M173.52 345.85L182.33 345.77 M182.33 345.77L186.69 345.83 M160.33 345.93L173.52 345.85" stroke="#5A7EC0" stroke-width="0.8" stroke-opacity="0.6" fill="none"/>
<path d="M308.99 448.95L294.82 450.9 M316.43 442.86L302.36 444.68 M321.07 435.62L309.67 436.79 M323.56 427.75L316.77 428.3 M325.74 420.14L323.62 420.27 M294.82 450.9L283 452.39 M294.82 450.9L302.36 444.68 M302.36 444.68L289.74 446.11 M302.36 444.68L309.67 436.79 M309.67 436.79L295.4 438.12 M309.67 436.79L316.77 428.3 M316.77 428.3L302.62 429.55 M316.77 428.3L323.62 420.27 M323.62 420.27L309.61 421.25 M323.62 420.27L326.1 417.32 M326.5 412.59L316.37 413.12 M326.5 405.21L322.92 405.36 M291.1 442.85L295.4 438.12 M295.4 438.12L292.66 438.32 M295.4 438.12L302.62 429.55 M302.62 429.55L294.14 430.21 M302.62 429.55L309.61 421.25 M309.61 421.25L296.04 422.18 M309.61 421.25L316.37 413.12 M316.37 413.12L302.92 413.92 M316.37 413.12L322.92 405.36 M322.92 405.36L309.59 405.96 M322.92 405.36L326.14 401.54 M325.46 397.93L316.06 398.15 M294.71 423.76L296.04 422.18 M296.04 422.18L294.71 422.25 M296.04 422.18L302.92 413.92 M302.92 413.92L293.74 414.3 M302.92 413.92L309.59 405.96 M309.59 405.96L296.66 406.3 M309.59 405.96L316.06 398.15 M316.06 398.15L303.24 398.21 M316.06 398.15L321.81 390.96 M321.28 390.27L309.64 390.1 M292.94 410.78L296.66 406.3 M296.66 406.3L290.5 406.18 M296.66 406.3L303.24 398.21 M303.24 398.21L290.78 397.8 M303.24 398.21L309.64 390.1 M309.64 390.1L297.28 389.4 M309.64 390.1L314.69 383.63 M311.78 381.81L303.61 381.17 M287.41 401.96L290.78 397.8 M290.78 397.8L280.63 396.86 M290.78 397.8L297.28 389.4 M297.28 389.4L285.25 388.06 M297.28 389.4L303.61 381.17 M303.61 381.17L291.67 379.57 M303.61 381.17L304.16 379.64 M279.19 395.98L285.25 388.06 M285.25 388.06L273.53 386.06 M285.25 388.06L291.67 379.57 M291.67 379.57L280.03 377.36 M291.67 379.57L292.68 376.74 M269.04 391.95L273.53 386.06 M273.53 386.06L262.08 383.47 M273.53 386.06L280.03 377.36 M280.03 377.36L268.66 374.61 M280.03 377.36L281.19 374.13 M257.86 389.01L262.08 383.47 M262.08 383.47L250.89 380.4 M262.08 383.47L268.66 374.61 M268.66 374.61L257.53 371.44 M268.66 374.61L269.72 371.76 M245.94 386.86L250.89 380.4 M250.89 380.4L239.93 376.97 M250.89 380.4L257.53 371.44 M257.53 371.44L246.63 368.11 M257.53 371.44L258.26 369.59 M231.86 385.28L222.24 381.72 M233.32 385.38L239.93 376.97 M239.93 376.97L229.19 373.3 M239.93 376.97L246.63 368.11 M246.63 368.11L242.56 366.85 M246.63 368.11L246.86 367.58 M219.45 384.85L222.24 381.72 M222.24 381.72L211.64 377.51 M222.24 381.72L229.19 373.3 M229.19 373.3L218.66 369.46 M229.19 373.3L234.95 366.08 M203.94 385.04L193.96 380.64 M204.66 385.02L211.64 377.51 M211.64 377.51L201.25 373.21 M211.64 377.51L218.66 369.46 M218.66 369.46L208.33 365.49 M218.66 369.46L222.27 365.2 M183.53 386.62L176.12 382.97 M188.47 386.09L193.96 380.64 M193.96 380.64L183.68 375.96 M193.96 380.64L201.25 373.21 M201.25 373.21L191.04 368.89 M201.25 373.21L208.33 365.49 M208.33 365.49L206.58 364.8 M208.33 365.49L208.95 364.8 M151.53 392.25L150 391.42 M166.83 389.22L158.09 384.69 M169.74 388.73L176.12 382.97 M176.12 382.97L165.95 377.96 M176.12 382.97L183.68 375.96 M183.68 375.96L173.6 371.31 M183.68 375.96L191.04 368.89 M191.04 368.89L182.77 365.33 M191.04 368.89L194.83 364.94 M123.16 398.02L122.69 397.77 M136.48 395.2L131.47 392.56 M148.08 392.91L150 391.42 M150 391.42L139.89 386.13 M150 391.42L158.09 384.69 M158.09 384.69L148.05 379.61 M158.09 384.69L165.95 377.96 M165.95 377.96L155.98 373.14 M165.95 377.96L173.6 371.31 M173.6 371.31L164.43 367.12 M173.6 371.31L179.95 365.56 M111.06 401.12L103.52 397.71 M121.14 398.53L122.69 397.77 M122.69 397.77L112.69 392.84 M122.69 397.77L131.47 392.56 M131.47 392.56L121.51 387.43 M131.47 392.56L139.89 386.13 M139.89 386.13L129.99 381.13 M139.89 386.13L148.05 379.61 M148.05 379.61L138.21 374.8 M148.05 379.61L155.98 373.14 M155.98 373.14L148.07 369.46 M155.98 373.14L163.06 367.31 M103.52 397.71L93.72 393.34 M103.52 397.71L112.69 392.84 M112.69 392.84L102.9 388.17 M112.69 392.84L121.51 387.43 M121.51 387.43L111.76 382.61 M121.51 387.43L129.99 381.13 M129.99 381.13L120.29 376.45 M129.99 381.13L138.21 374.8 M138.21 374.8L132.35 372.07 M138.21 374.8L144.27 370.1 M93.72 393.34L102.9 388.17 M102.9 388.17L111.76 382.61 M111.76 382.61L120.29 376.45 M120.29 376.45L123.99 373.7 M308.99 448.95L316.43 442.86 M316.43 442.86L321.07 435.62 M321.07 435.62L323.56 427.75 M323.56 427.75L325.74 420.14 M325.74 420.14L326.1 417.32 M326.5 412.59L326.1 417.32 M326.5 412.59L326.5 405.21 M326.5 405.21L326.14 401.54 M325.46 397.93L326.14 401.54 M325.46 397.93L321.81 390.96 M321.28 390.27L321.81 390.96 M321.28 390.27L314.69 383.63 M311.78 381.81L314.69 383.63 M311.78 381.81L304.16 379.64 M292.68 376.74L304.16 379.64 M281.19 374.13L292.68 376.74 M269.72 371.76L281.19 374.13 M258.26 369.59L269.72 371.76 M246.86 367.58L258.26 369.59 M234.95 366.08L242.56 366.85 M242.56 366.85L246.86 367.58 M222.27 365.2L234.95 366.08 M208.95 364.8L222.27 365.2 M194.83 364.94L206.58 364.8 M206.58 364.8L208.95 364.8 M179.95 365.56L182.77 365.33 M182.77 365.33L194.83 364.94 M163.06 367.31L164.43 367.12 M164.43 367.12L179.95 365.56 M144.27 370.1L148.07 369.46 M148.07 369.46L163.06 367.31 M123.99 373.7L132.35 372.07 M132.35 372.07L144.27 370.1" stroke="#E6BA40" stroke-width="0.8" stroke-opacity="0.6" fill="none"/>
<path d="M283 452.39L280.25 452.73 M289.74 446.11L287.94 446.32 M280.25 452.73L266.2 454.13 M280.25 452.73L287.94 446.32 M287.94 446.32L274.03 447.36 M287.94 446.32L291.1 442.85 M292.66 438.32L281.6 439.14 M294.14 430.21L288.94 430.62 M266.2 454.13L253.02 454.48 M266.2 454.13L274.03 447.36 M274.03 447.36L260.57 447.78 M274.03 447.36L281.6 439.14 M281.6 439.14L268.25 439.71 M281.6 439.14L288.94 430.62 M288.94 430.62L275.69 431.33 M288.94 430.62L294.71 423.76 M294.71 422.25L282.89 422.87 M293.74 414.3L289.88 414.46 M255.5 452.06L260.57 447.78 M260.57 447.78L259.76 447.77 M260.57 447.78L268.25 439.71 M268.25 439.71L261.99 439.7 M268.25 439.71L275.69 431.33 M275.69 431.33L262.85 431.44 M275.69 431.33L282.89 422.87 M282.89 422.87L270.14 423.04 M282.89 422.87L289.88 414.46 M289.88 414.46L277.23 414.42 M289.88 414.46L292.94 410.78 M290.5 406.18L284.1 406.05 M262.62 431.7L262.85 431.44 M262.85 431.44L262.57 431.43 M262.85 431.44L270.14 423.04 M270.14 423.04L259.02 422.43 M270.14 423.04L277.23 414.42 M277.23 414.42L264.93 413.58 M277.23 414.42L284.1 406.05 M284.1 406.05L271.89 405.04 M284.1 406.05L287.41 401.96 M280.63 396.86L278.66 396.67 M258.4 421.58L264.93 413.58 M264.93 413.58L252.96 411.83 M264.93 413.58L271.89 405.04 M271.89 405.04L260.01 403.27 M271.89 405.04L278.66 396.67 M278.66 396.67L266.86 394.82 M278.66 396.67L279.19 395.98 M249.78 415.7L252.96 411.83 M252.96 411.83L241.29 409.3 M252.96 411.83L260.01 403.27 M260.01 403.27L248.41 400.78 M260.01 403.27L266.86 394.82 M266.86 394.82L255.34 392.34 M266.86 394.82L269.04 391.95 M239.3 411.68L241.29 409.3 M241.29 409.3L229.88 406.1 M241.29 409.3L248.41 400.78 M248.41 400.78L237.07 397.64 M248.41 400.78L255.34 392.34 M255.34 392.34L244.07 389.29 M255.34 392.34L257.86 389.01 M227.35 409.08L229.88 406.1 M229.88 406.1L218.71 402.28 M229.88 406.1L237.07 397.64 M237.07 397.64L225.98 393.93 M237.07 397.64L244.07 389.29 M244.07 389.29L233.05 385.72 M244.07 389.29L245.94 386.86 M203.47 407.58L200.23 406.23 M213.97 407.71L218.71 402.28 M218.71 402.28L207.77 397.92 M218.71 402.28L225.98 393.93 M225.98 393.93L215.1 389.75 M225.98 393.93L233.05 385.72 M233.05 385.72L231.86 385.28 M233.05 385.72L233.32 385.38 M183.79 409.75L181.55 408.61 M198.72 407.77L200.23 406.23 M200.23 406.23L189.41 401.02 M200.23 406.23L207.77 397.92 M207.77 397.92L197.02 393.12 M207.77 397.92L215.1 389.75 M215.1 389.75L204.43 385.26 M215.1 389.75L219.45 384.85 M167.16 412.26L162.63 409.66 M179.72 410.24L181.55 408.61 M181.55 408.61L170.84 402.81 M181.55 408.61L189.41 401.02 M189.41 401.02L178.77 395.52 M189.41 401.02L197.02 393.12 M197.02 393.12L186.47 388.07 M197.02 393.12L204.43 385.26 M204.43 385.26L203.94 385.04 M204.43 385.26L204.66 385.02 M142.14 417.7L134.34 413 M152.7 414.46L143.38 408.9 M156.23 413.87L162.63 409.66 M162.63 409.66L152.03 403.63 M162.63 409.66L170.84 402.81 M170.84 402.81L160.32 397.02 M170.84 402.81L178.77 395.52 M178.77 395.52L168.33 390 M178.77 395.52L186.47 388.07 M186.47 388.07L183.53 386.62 M186.47 388.07L188.47 386.09 M134.34 413L123.79 407.09 M134.34 413L143.38 408.9 M143.38 408.9L132.92 403.06 M143.38 408.9L152.03 403.63 M152.03 403.63L141.64 397.92 M152.03 403.63L160.32 397.02 M160.32 397.02L151.53 392.25 M160.32 397.02L168.33 390 M168.33 390L166.83 389.22 M168.33 390L169.74 388.73 M123.79 407.09L113.54 402.25 M123.79 407.09L132.92 403.06 M132.92 403.06L123.16 398.02 M132.92 403.06L141.64 397.92 M141.64 397.92L136.48 395.2 M141.64 397.92L148.08 392.91 M113.54 402.25L111.06 401.12 M113.54 402.25L121.14 398.53 M283 452.39L289.74 446.11 M289.74 446.11L291.1 442.85 M292.66 438.32L291.1 442.85 M292.66 438.32L294.14 430.21 M294.14 430.21L294.71 423.76 M294.71 422.25L294.71 423.76 M294.71 422.25L293.74 414.3 M293.74 414.3L292.94 410.78 M290.5 406.18L292.94 410.78 M290.5 406.18L287.41 401.96 M280.63 396.86L287.41 401.96 M280.63 396.86L279.19 395.98 M269.04 391.95L279.19 395.98 M257.86 389.01L269.04 391.95 M245.94 386.86L257.86 389.01 M233.32 385.38L245.94 386.86 M219.45 384.85L231.86 385.28 M231.86 385.28L233.32 385.38 M204.66 385.02L219.45 384.85 M188.47 386.09L203.94 385.04 M203.94 385.04L204.66 385.02 M169.74 388.73L183.53 386.62 M183.53 386.62L188.47 386.09 M148.08 392.91L151.53 392.25 M151.53 392.25L166.83 389.22 M166.83 389.22L169.74 388.73 M121.14 398.53L123.16 398.02 M123.16 398.02L136.48 395.2 M136.48 395.2L148.08 392.91 M111.06 401.12L121.14 398.53" stroke="#9EA0A8" stroke-width="0.8" stroke-opacity="0.6" fill="none"/>
<path d="M253.02 454.48L252.62 454.49 M252.62 454.49L239.48 453.98 M252.62 454.49L255.5 452.06 M259.76 447.77L247.54 447.54 M261.99 439.7L255.32 439.7 M239.48 453.98L226.72 452.62 M239.48 453.98L247.54 447.54 M247.54 447.54L234.9 446.59 M247.54 447.54L255.32 439.7 M255.32 439.7L242.77 439 M255.32 439.7L262.62 431.7 M262.57 431.43L250.38 430.76 M259.02 422.43L257.77 422.36 M226.72 452.62L214.3 450.42 M226.72 452.62L234.9 446.59 M234.9 446.59L222.6 444.87 M234.9 446.59L242.77 439 M242.77 439L230.56 437.48 M242.77 439L250.38 430.76 M250.38 430.76L238.26 429.18 M250.38 430.76L257.77 422.36 M257.77 422.36L245.72 420.63 M257.77 422.36L258.4 421.58 M214.3 450.42L208.21 448.97 M214.3 450.42L222.6 444.87 M222.6 444.87L210.61 442.36 M222.6 444.87L230.56 437.48 M230.56 437.48L218.66 435.08 M230.56 437.48L238.26 429.18 M238.26 429.18L226.44 426.71 M238.26 429.18L245.72 420.63 M245.72 420.63L233.97 418.07 M245.72 420.63L249.78 415.7 M206.45 444.93L210.61 442.36 M210.61 442.36L204.07 440.46 M210.61 442.36L218.66 435.08 M218.66 435.08L207.04 431.73 M218.66 435.08L226.44 426.71 M226.44 426.71L214.88 423.35 M226.44 426.71L233.97 418.07 M233.97 418.07L222.49 414.78 M233.97 418.07L239.3 411.68 M192.6 436.49L187.42 434.46 M201.25 436.88L207.04 431.73 M207.04 431.73L195.64 427.34 M207.04 431.73L214.88 423.35 M214.88 423.35L203.56 419.14 M214.88 423.35L222.49 414.78 M222.49 414.78L211.25 410.83 M222.49 414.78L227.35 409.08 M172.26 435.87L167.4 433.36 M184.58 436.04L187.42 434.46 M187.42 434.46L176.12 428.63 M187.42 434.46L195.64 427.34 M195.64 427.34L184.45 421.92 M195.64 427.34L203.56 419.14 M203.56 419.14L192.46 414.15 M203.56 419.14L211.25 410.83 M211.25 410.83L203.47 407.58 M211.25 410.83L213.97 407.71 M167.4 433.36L156.17 426.48 M167.4 433.36L176.12 428.63 M176.12 428.63L165 422.02 M176.12 428.63L184.45 421.92 M184.45 421.92L173.44 415.85 M184.45 421.92L192.46 414.15 M192.46 414.15L183.79 409.75 M192.46 414.15L198.72 407.77 M156.17 426.48L145.14 419.5 M156.17 426.48L165 422.02 M165 422.02L154.08 415.29 M165 422.02L173.44 415.85 M173.44 415.85L167.16 412.26 M173.44 415.85L179.72 410.24 M145.14 419.5L142.14 417.7 M145.14 419.5L154.08 415.29 M154.08 415.29L152.7 414.46 M154.08 415.29L156.23 413.87 M253.02 454.48L255.5 452.06 M259.76 447.77L255.5 452.06 M259.76 447.77L261.99 439.7 M261.99 439.7L262.62 431.7 M262.57 431.43L262.62 431.7 M262.57 431.43L259.02 422.43 M259.02 422.43L258.4 421.58 M249.78 415.7L258.4 421.58 M239.3 411.68L249.78 415.7 M227.35 409.08L239.3 411.68 M213.97 407.71L227.35 409.08 M198.72 407.77L203.47 407.58 M203.47 407.58L213.97 407.71 M179.72 410.24L183.79 409.75 M183.79 409.75L198.72 407.77 M156.23 413.87L167.16 412.26 M167.16 412.26L179.72 410.24 M142.14 417.7L152.7 414.46 M152.7 414.46L156.23 413.87" stroke="#D88550" stroke-width="0.8" stroke-opacity="0.6" fill="none"/>
<path d="M208.21 448.97L202.2 447.55 M202.2 447.55L190.38 443.9 M202.2 447.55L206.45 444.93 M204.07 440.46L198.9 438.97 M190.38 443.9L178.8 439.26 M190.38 443.9L198.9 438.97 M198.9 438.97L192.6 436.49 M198.9 438.97L201.25 436.88 M178.8 439.26L172.26 435.87 M178.8 439.26L184.58 436.04 M208.21 448.97L206.45 444.93 M204.07 440.46L206.45 444.93 M204.07 440.46L201.25 436.88 M184.58 436.04L192.6 436.49 M192.6 436.49L201.25 436.88 M172.26 435.87L184.58 436.04" stroke="#5E9CC8" stroke-width="0.8" stroke-opacity="0.6" fill="none"/>
<text x="173" y="300.7" font-size="8.6" text-anchor="middle" letter-spacing="0.32">corner of the slab</text>
<text x="174.7" y="313.2" font-size="9" text-anchor="middle">2</text>
<text x="136" y="329.5" font-size="9" text-anchor="middle">1.5</text>
<text x="89.9" y="351.6" font-size="9" text-anchor="middle">1</text>
<text x="46.7" y="352.7" font-size="8.6" text-anchor="middle" letter-spacing="0.2">center of the</text>
<text x="46.9" y="363.7" font-size="8.6" text-anchor="middle" letter-spacing="0.2">slab edge</text>
<text x="224.8" y="322.6" font-size="9" text-anchor="middle">1.5</text>
<text x="279.5" y="333.5" font-size="9" text-anchor="middle">1</text>
<text x="339" y="343.5" font-size="9" text-anchor="middle">0.5</text>
<text x="403.5" y="357" font-size="9" text-anchor="middle">0</text>
<text x="424.2" y="343.1" font-size="8.6" text-anchor="middle" letter-spacing="0.32">corner of the slab</text>
<text x="413" y="369.1" font-size="9" text-anchor="start">-2</text>
<text x="412" y="379.1" font-size="9" text-anchor="start">0</text>
<text x="411" y="388.7" font-size="9" text-anchor="start">2</text>
<text x="409.5" y="397.7" font-size="9" text-anchor="start">4</text>
<text x="409" y="407.1" font-size="9" text-anchor="start">6</text>
<text x="408" y="416.1" font-size="9" text-anchor="start">8</text>
<text x="406" y="425.1" font-size="9" text-anchor="start">10</text>
<text x="405.6" y="434.1" font-size="9" text-anchor="start">12</text>
<text transform="translate(435.8 399.3) rotate(-90)" font-size="9.4" letter-spacing="0.15" text-anchor="middle"><tspan font-weight="bold">Deformations</tspan> (mm)</text>
<rect x="93.4" y="482.3" width="301.3" height="16" fill="none" stroke="#EFEFEF" stroke-width="0.8"/>
<rect x="113" y="487.5" width="5.2" height="5.2" fill="none" stroke="#92C0D4" stroke-width="1"/>
<text x="120.4" y="493.4" font-size="9" text-anchor="start">10-12</text>
<rect x="160.7" y="487.5" width="5.2" height="5.2" fill="none" stroke="#CC9C78" stroke-width="1"/>
<text x="168.1" y="493.4" font-size="9" text-anchor="start">8-10</text>
<rect x="203.8" y="487.5" width="5.2" height="5.2" fill="none" stroke="#BCBCBC" stroke-width="1"/>
<text x="211.2" y="493.4" font-size="9" text-anchor="start">6-8</text>
<rect x="241.8" y="487.5" width="5.2" height="5.2" fill="none" stroke="#DCCC68" stroke-width="1"/>
<text x="249.2" y="493.4" font-size="9" text-anchor="start">4-6</text>
<rect x="280.4" y="487.5" width="5.2" height="5.2" fill="none" stroke="#8CA6C6" stroke-width="1"/>
<text x="287.8" y="493.4" font-size="9" text-anchor="start">2-4</text>
<rect x="319.4" y="487.5" width="5.2" height="5.2" fill="none" stroke="#9CBE8C" stroke-width="1"/>
<text x="326.8" y="493.4" font-size="9" text-anchor="start">0-2</text>
<rect x="357.5" y="487.5" width="5.2" height="5.2" fill="none" stroke="#6F8FA0" stroke-width="1"/>
<text x="364.9" y="493.4" font-size="9" text-anchor="start">-2-0</text>
<text x="237.5" y="509" font-size="9" text-anchor="middle" letter-spacing="0.2">Deformations (mm)</text>
<text x="238.5" y="269.5" font-size="10" text-anchor="middle" letter-spacing="0.2">(a)</text>
<text x="235" y="540.5" font-size="10" text-anchor="middle" letter-spacing="0.2">(b)</text>
</svg>
</body></html>
